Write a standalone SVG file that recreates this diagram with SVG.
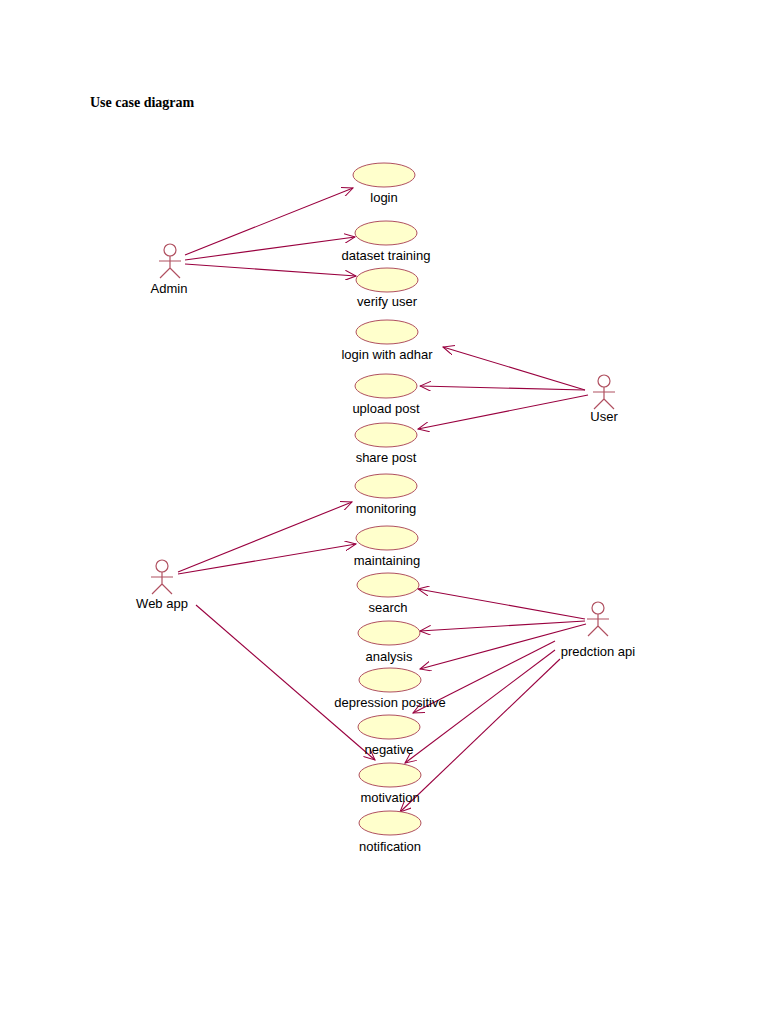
<svg xmlns="http://www.w3.org/2000/svg" width="768" height="1024" viewBox="0 0 768 1024">
<style>
.uc{fill:#ffffcc;stroke:#b05060;stroke-width:1}
.t{font-family:"Liberation Sans",Arial,sans-serif;font-size:13px;fill:#000;text-anchor:middle}
.a{stroke:#b05060;stroke-width:1.2;fill:none}
.c{stroke:#99003f;stroke-width:1.1;fill:none;marker-end:url(#ah)}
</style>
<defs>
<marker id="ah" markerWidth="12" markerHeight="10" refX="11" refY="5" orient="auto" markerUnits="userSpaceOnUse"><path d="M0,0 L11,5 L0,10" fill="none" stroke="#99003f" stroke-width="1"/></marker>
<g id="actor"><circle cx="0" cy="-8" r="6" class="a"/><path class="a" d="M0,-2 V10 M-11,3 H11 M0,10 L-10,20 M0,10 L10,20"/></g>
</defs>
<rect width="768" height="1024" fill="#fff"/>
<text x="90" y="107" font-family="Liberation Serif,serif" font-size="14" font-weight="bold">Use case diagram</text>
<g id="connectors">
<line class="c" x1="185" y1="255" x2="353" y2="188"/>
<line class="c" x1="185" y1="260" x2="355" y2="237"/>
<line class="c" x1="185" y1="264" x2="356" y2="276"/>
<line class="c" x1="585" y1="390" x2="443" y2="347"/>
<line class="c" x1="585" y1="390" x2="420" y2="386"/>
<line class="c" x1="588" y1="395" x2="418" y2="429"/>
<line class="c" x1="178" y1="572" x2="352" y2="502"/>
<line class="c" x1="178" y1="574" x2="356" y2="544"/>
<line class="c" x1="196" y1="605" x2="375" y2="760"/>
<line class="c" x1="585" y1="619" x2="418" y2="589"/>
<line class="c" x1="585" y1="621" x2="420" y2="631"/>
<line class="c" x1="586" y1="624" x2="420" y2="669"/>
<line class="c" x1="555" y1="641" x2="413" y2="713"/>
<line class="c" x1="555" y1="650" x2="405" y2="763"/>
<line class="c" x1="560" y1="659" x2="400" y2="812"/>
</g>
<g id="admin"><use href="#actor" x="170" y="258"/><text class="t" x="169" y="293">Admin</text></g>
<g id="user"><use href="#actor" x="604" y="389"/><text class="t" x="604" y="421">User</text></g>
<g id="webapp"><use href="#actor" x="162" y="574"/><text class="t" x="162" y="608">Web app</text></g>
<g id="api"><use href="#actor" x="598" y="616"/><text class="t" x="598" y="656">predction api</text></g>
<g id="login"><ellipse class="uc" cx="384" cy="175" rx="31" ry="12"/><text class="t" x="384" y="202">login</text></g>
<g id="dataset"><ellipse class="uc" cx="386" cy="233" rx="31" ry="12"/><text class="t" x="386" y="260">dataset training</text></g>
<g id="verify"><ellipse class="uc" cx="387" cy="280" rx="31" ry="12"/><text class="t" x="387" y="306">verify user</text></g>
<g id="adhar"><ellipse class="uc" cx="387" cy="332" rx="31" ry="12"/><text class="t" x="387" y="359">login with adhar</text></g>
<g id="upload"><ellipse class="uc" cx="386" cy="386" rx="31" ry="12"/><text class="t" x="386" y="413">upload post</text></g>
<g id="share"><ellipse class="uc" cx="386" cy="435" rx="31" ry="12"/><text class="t" x="386" y="462">share post</text></g>
<g id="monitoring"><ellipse class="uc" cx="386" cy="486" rx="31" ry="12"/><text class="t" x="386" y="513">monitoring</text></g>
<g id="maintaining"><ellipse class="uc" cx="387" cy="538" rx="31" ry="12"/><text class="t" x="387" y="565">maintaining</text></g>
<g id="search"><ellipse class="uc" cx="388" cy="585" rx="31" ry="12"/><text class="t" x="388" y="612">search</text></g>
<g id="analysis"><ellipse class="uc" cx="389" cy="633" rx="31" ry="12"/><text class="t" x="389" y="661">analysis</text></g>
<g id="depression"><ellipse class="uc" cx="390" cy="680" rx="31" ry="12"/><text class="t" x="390" y="707">depression positive</text></g>
<g id="negative"><ellipse class="uc" cx="389" cy="727" rx="31" ry="12"/><text class="t" x="389" y="754">negative</text></g>
<g id="motivation"><ellipse class="uc" cx="390" cy="775" rx="31" ry="12"/><text class="t" x="390" y="802">motivation</text></g>
<g id="notification"><ellipse class="uc" cx="390" cy="823" rx="31" ry="12"/><text class="t" x="390" y="851">notification</text></g>
</svg>
